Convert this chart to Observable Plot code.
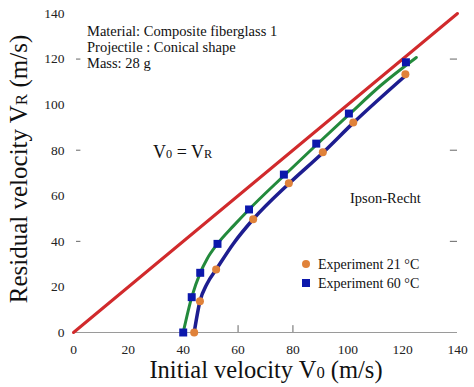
<!DOCTYPE html>
<html><head><meta charset="utf-8">
<script src="https://cdn.jsdelivr.net/npm/d3@7"></script>
<script src="https://cdn.jsdelivr.net/npm/@observablehq/plot@0.6"></script>
<style>body{margin:0;background:#fff}</style>
</head><body><div id="chart"></div>
<script>
// Tick values
const xTicks = [0, 20, 40, 60, 80, 100, 120, 140];
const yTicks = [0, 20, 40, 60, 80, 100, 120, 140];
const xMarkTicks = [60, 80];
const yMarkTicks = [40, 80, 120];

// Experiment 60 °C (blue squares)
const v0_60 = [40, 43.1, 46.2, 52.5, 64, 76.7, 88.5, 100.4, 121.2];
const vr_60 = [0, 15.5, 26.2, 38.9, 54, 69.3, 82.9, 96.1, 118.6];
// Experiment 21 °C (orange circles)
const v0_21 = [44, 46.1, 52, 65.5, 78.5, 90.9, 102, 121];
const vr_21 = [0, 13.7, 27.6, 49.7, 65.5, 79.1, 92.2, 113.3];

// Ipson-Recht fitted curves
const fit60_v0 = [40, 43.1, 46.2, 48.7, 52.5, 58.4, 64, 76.7, 88.5, 100.4, 112, 125];
const fit60_vr = [0, 15.5, 26.2, 32.3, 38.9, 46.9, 54, 68.8, 82.3, 95.6, 108.4, 120.7];
const fit21_v0 = [44, 46.1, 48.7, 52, 58.4, 65.5, 78.5, 90.9, 102, 121];
const fit21_vr = [0, 13.7, 21.4, 27.6, 39.2, 49.7, 65.3, 78.9, 92, 112.7];

// V0 = VR reference line
const diag = [0, 140];

const pts = (xs, ys) => xs.map((x, i) => ({x, y: ys[i]}));

const RED = "#d12a2c", GREEN = "#238a3c", NAVY = "#1d1d90", SQ = "#0c18ac", ORANGE = "#e0823a";
const FONT = "Liberation Serif, 'Times New Roman', serif";

const plot = Plot.plot({
  width: 474, height: 387,
  marginLeft: 73, marginRight: 17, marginTop: 13, marginBottom: 55,
  x: {domain: [0, 140]},
  y: {domain: [0, 140]},
  style: {fontFamily: FONT, fontSize: "13.5px", color: "#222", background: "#fff"},
  marks: [
    Plot.axisX({ticks: xTicks, tickSize: 0, tickPadding: 12, label: null, fontSize: 13.5}),
    Plot.axisY({ticks: yTicks, tickSize: 0, tickPadding: 9, label: null, fontSize: 13.5}),
    Plot.ruleY([0], {stroke: "#9a9a9a", strokeWidth: 1.2}),
    Plot.ruleX(xMarkTicks, {x: d => d, y1: 0, y2: 3, stroke: "#666"}),
    Plot.ruleY(yMarkTicks, {y: d => d, x1: 1.1, x2: 2.7, stroke: "#666"}),
    Plot.ruleY(yMarkTicks, {y: d => d, x1: 137.4, x2: 140, stroke: "#666"}),
    Plot.line(diag.map(d => ({x: d, y: d})), {x: "x", y: "y", stroke: RED, strokeWidth: 3}),
    Plot.line(pts(fit60_v0, fit60_vr), {x: "x", y: "y", stroke: GREEN, strokeWidth: 3, curve: "monotone-x"}),
    Plot.line(pts(fit21_v0, fit21_vr), {x: "x", y: "y", stroke: NAVY, strokeWidth: 3.5, curve: "monotone-x"}),
    Plot.dot(pts(v0_60, vr_60), {x: "x", y: "y", symbol: "square", r: 4.5, fill: SQ, stroke: "none"}),
    Plot.dot(pts(v0_21, vr_21), {x: "x", y: "y", symbol: "circle", r: 4, fill: ORANGE, stroke: "none"})
  ]
});

document.getElementById("chart").append(plot);
const svg = d3.select(plot);

function addText(x, y, parts, size, anchor = "start", rotate = 0) {
  const t = svg.append("text")
    .attr("transform", `translate(${x},${y}) rotate(${rotate})`)
    .attr("text-anchor", anchor)
    .attr("font-family", FONT)
    .attr("font-size", size)
    .attr("fill", "#111");
  for (const p of parts) {
    const s = t.append("tspan").text(p.t);
    if (p.sub) s.attr("font-size", size * 0.68);
  }
  return t;
}

addText(87, 36, [{t: "Material: Composite fiberglass 1"}], 14.5);
addText(87, 52, [{t: "Projectile : Conical shape"}], 14.5);
addText(87, 68, [{t: "Mass: 28 g"}], 14.5);
addText(153, 158, [{t: "V"}, {t: "0", sub: true}, {t: " = V"}, {t: "R", sub: true}], 18);
addText(350, 203, [{t: "Ipson-Recht"}], 14.5);
addText(266, 378, [{t: "Initial velocity V"}, {t: "0", sub: true}, {t: " (m/s)"}], 24.5, "middle");
addText(27, 169, [{t: "Residual velocity V"}, {t: "R", sub: true}, {t: " (m/s)"}], 25, "middle", -90);

// legend
svg.append("circle").attr("cx", 306).attr("cy", 264).attr("r", 4).attr("fill", ORANGE);
svg.append("rect").attr("x", 302).attr("y", 279).attr("width", 8).attr("height", 8).attr("fill", SQ);
addText(318, 269, [{t: "Experiment 21 °C"}], 14);
addText(318, 288, [{t: "Experiment 60 °C"}], 14);
</script>
</body></html>
